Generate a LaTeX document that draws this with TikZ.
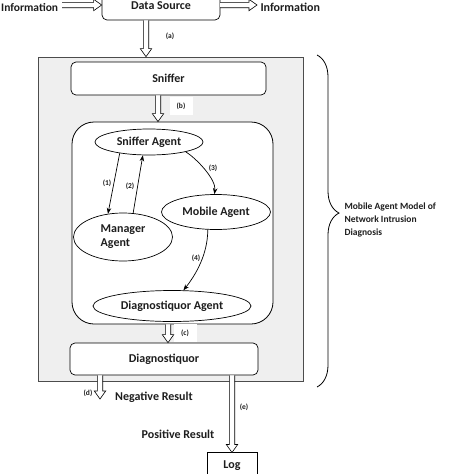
\documentclass[tikz,border=0pt]{standalone}
\usepackage{fontspec}
\setmainfont{Carlito}
\usetikzlibrary{arrows.meta,shapes.geometric,decorations.pathreplacing,calc}
\definecolor{txt}{HTML}{1E1E1E}
\definecolor{panel}{HTML}{EFEFEF}
\newcommand{\hollowdown}[2]{\filldraw[hollow] let \p1=#1, \p2=#2 in
  ({\x1-2.7pt},\y1) -- ({\x1-2.7pt},{\y2+8pt}) -- ({\x1-5.7pt},{\y2+8pt}) -- (\x1,\y2)
  -- ({\x1+5.7pt},{\y2+8pt}) -- ({\x1+2.7pt},{\y2+8pt}) -- ({\x1+2.7pt},\y1);}
\newcommand{\hollowright}[2]{\filldraw[hollow] let \p1=#1, \p2=#2 in
  (\x1,{\y1+2.7pt}) -- ({\x2-8pt},{\y1+2.7pt}) -- ({\x2-8pt},{\y1+5.7pt}) -- (\x2,\y1)
  -- ({\x2-8pt},{\y1-5.7pt}) -- ({\x2-8pt},{\y1-2.7pt}) -- (\x1,{\y1-2.7pt});}
\begin{document}
\begin{tikzpicture}[x=1pt,y=-1pt,
  every node/.style={text=txt},
  mainfont/.style={font=\bfseries\fontsize{12}{14}\selectfont},
  smallfont/.style={font=\bfseries\fontsize{7.5}{9}\selectfont},
  box/.style={draw=black, line width=0.7pt, fill=white, rounded corners=5pt, inner sep=0pt, mainfont},
  agent/.style={draw=black, line width=0.7pt, fill=white, ellipse, inner sep=0pt, mainfont},
  hollow/.style={draw=black, fill=white, line width=0.6pt, line join=miter},
  tarrow/.style={draw=black, line width=0.7pt, -{Stealth[length=6pt, width=4.5pt]}},
  lbl/.style={smallfont, inner sep=1pt},
  patch/.style={smallfont, fill=white, minimum width=23pt, minimum height=18pt, inner sep=0pt}
]
\useasboundingbox (0,0) rectangle (474,474);
\fill[white] (0,0) rectangle (474,474);

% data source
\node[box, minimum width=118pt, minimum height=40pt] (ds) at (161,0) {};
\node[mainfont] (dst) at (161,6) {Data Source};
\node[font=\bfseries\fontsize{11.5}{14}\selectfont, anchor=west, inner sep=0.5pt] (infl) at (0.5,7) {Information};
\node[mainfont, anchor=west] (infr) at (257,7) {Information};
\coordinate (ia) at (62,5);
\coordinate (ib) at (220,5);
\hollowright{(ia)}{(ds.west |- ia)}
\hollowright{(ib)}{(infr.west |- ib)}

% gray panel
\node[draw=black!70, line width=0.7pt, fill=panel, minimum width=265pt, minimum height=324pt, inner sep=0pt] (panel) at (170.5,219) {};
\hollowdown{([xshift=-15pt]ds.south)}{([xshift=-15pt]ds.south |- panel.north)}
\node[lbl] (la) at (170,36) {(a)};

% sniffer
\node[box, minimum width=195pt, minimum height=33pt] (sn) at (168.5,78.5) {Sniffer};

% inner region
\node[draw=black, line width=0.8pt, fill=white, rounded corners=22pt, minimum width=201pt, minimum height=202pt, inner sep=0pt] (inner) at (172.5,223) {};
\node[patch] (lb) at (181,106) {(b)};
\hollowdown{([xshift=-10.5pt]sn.south)}{([xshift=-10.5pt]sn.south |- inner.north)}

% agents
\node[agent, minimum width=108pt, minimum height=26pt] (sa) at (149,142) {Sniffer Agent};
\node[agent, minimum width=99pt, minimum height=48pt, align=left] (mg) at (123,237) {Manager\\Agent};
\node[agent, minimum width=109pt, minimum height=35pt] (mb) at (216,212) {Mobile Agent};
\node[agent, minimum width=158pt, minimum height=31pt] (da) at (172,306) {Diagnostiquor Agent};

\draw[tarrow] (sa.201) -- (mg.123);
\draw[tarrow] (mg.67) -- (sa.245);
\draw[tarrow] (sa.-15) .. controls +(10,6) and +(2,-15) .. (mb.95);
\draw[tarrow] (mb.245) .. controls +(0,25) and +(12,-15) .. (da.54);
\node[lbl] (l1) at (107,183) {(1)};
\node[lbl] (l2) at (130,186) {(2)};
\node[lbl] (l3) at (213,168) {(3)};
\node[lbl] (l4) at (196,258) {(4)};

% diagnostiquor
\node[box, minimum width=188pt, minimum height=32pt] (dg) at (164,359) {Diagnostiquor};
\node[patch] (lc) at (185,333) {(c)};
\coordinate (cx) at (168,0);
\hollowdown{(inner.south -| cx)}{(dg.north -| cx)}

% outputs
\coordinate (dend) at (100,399);
\hollowdown{(dg.south -| dend)}{(dend)}
\node[lbl] (ld) at (88,393) {(d)};
\node[mainfont] (neg) at (154,397) {Negative Result};

\node[draw=black, line width=0.7pt, fill=white, cylinder, shape border rotate=90, aspect=0.35,
      minimum width=50pt, minimum height=50pt, inner sep=0pt] (log) at (232,478) {};
\node[mainfont] (logt) at (232,466) {Log};
\hollowdown{(dg.south -| log.north)}{(log.north)}
\node[lbl] (le) at (244,407) {(e)};
\node[mainfont] (pos) at (178,434) {Positive Result};

% brace
\draw[line width=0.8pt, decorate, decoration={brace, amplitude=22pt, aspect=0.476}] (317,55) -- (317,387);
\node[font=\bfseries\fontsize{9.5}{13}\selectfont, align=left, anchor=west, text=txt] (brt) at (341,220) {Mobile Agent Model of\\Network Intrusion\\Diagnosis};
\end{tikzpicture}
\end{document}
